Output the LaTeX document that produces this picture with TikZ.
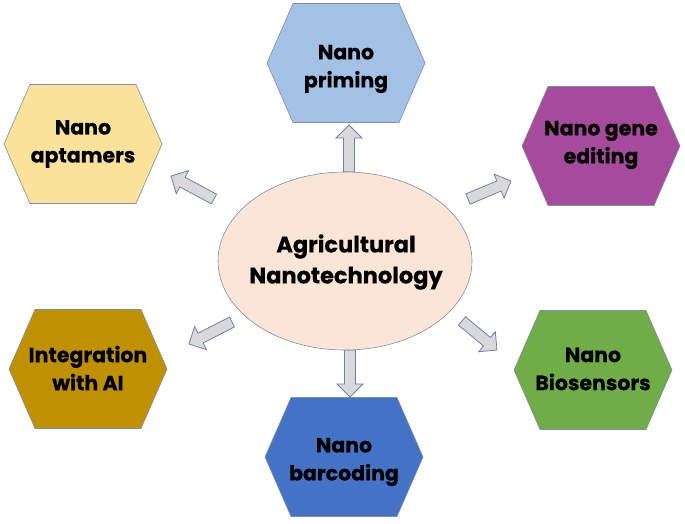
\documentclass[tikz,border=0pt]{standalone}
\usepackage{fontspec}
\setmainfont{Poppins}[BoldFont={Poppins Bold}, BoldFeatures={FakeBold=0.6}]
\usetikzlibrary{calc}
\definecolor{arrfill}{HTML}{D9D9D9}
\definecolor{arrline}{HTML}{6F80B0}
\definecolor{hexline}{HTML}{7F8FA6}
\definecolor{ellfill}{HTML}{FBE5D6}
\definecolor{cprim}{HTML}{A2C1E4}
\definecolor{capt}{HTML}{FBE29A}
\definecolor{cgene}{HTML}{A64A9C}
\definecolor{cai}{HTML}{BF9000}
\definecolor{cbio}{HTML}{70AD47}
\definecolor{cbar}{HTML}{4472C4}
\tikzset{
  hexshape/.style={draw=hexline, line width=0.6pt},
  hextext/.style={align=center, font=\fontsize{20.5}{28}\selectfont\bfseries, text=black, inner sep=0pt},
  blockarrow/.style={draw=arrline, fill=arrfill, line width=0.8pt, line join=miter},
}
% name, cx, cy, fill, text, text y-offset
\newcommand\myhex[6]{%
  \coordinate (#1) at (#2,#3);
  \draw[hexshape, fill=#4] (#1) ++(-79,0) -- ++(26,-59.5) -- ++(106,0) -- ++(26,59.5) -- ++(-26,59.5) -- ++(-106,0) -- cycle;
  \node[hextext] (#1-t) at ($(#1)+(0,#6)$) {#5};
}
\newcommand\myarrow[2]{%
  \path[blockarrow] ($(#1)!5.5pt!90:(#2)$) -- ($($(#2)!13pt!(#1)$)!5.5pt!-90:(#1)$)
    -- ($($(#2)!13pt!(#1)$)!13pt!-90:(#1)$) -- (#2)
    -- ($($(#2)!13pt!(#1)$)!13pt!90:(#1)$) -- ($($(#2)!13pt!(#1)$)!5.5pt!90:(#1)$)
    -- ($(#1)!5.5pt!-90:(#2)$) -- cycle;
}
\begin{document}
\begin{tikzpicture}[x=1pt,y=-1pt]
\useasboundingbox (0,0) rectangle (685,523);
% hexagons
\myhex{prim}{346}{63}{cprim}{Nano\\priming}{6}
\myhex{apt}{83}{144}{capt}{Nano\\aptamers}{0}
\myhex{gene}{601}{146}{cgene}{Nano gene\\editing}{-1}
\myhex{ai}{88}{369}{cai}{Integration\\with AI}{-1}
\myhex{bio}{593}{370}{cbio}{Nano\\Biosensors}{-1}
\myhex{bar}{344}{457}{cbar}{Nano\\barcoding}{5}
% arrow coordinates
\coordinate (uT) at (349,172);  \coordinate (uH) at (349,125);
\coordinate (dT) at (350,350);  \coordinate (dH) at (350,397);
\coordinate (ulT) at (214,199); \coordinate (ulH) at (171,176);
\coordinate (urT) at (468,199); \coordinate (urH) at (511,181);
\coordinate (llT) at (232,322); \coordinate (llH) at (189,344);
\coordinate (lrT) at (462,321); \coordinate (lrH) at (497,350);
\myarrow{uT}{uH}
\myarrow{dT}{dH}
\myarrow{ulT}{ulH}
\myarrow{urT}{urH}
\myarrow{llT}{llH}
\myarrow{lrT}{lrH}
% center ellipse
\draw[draw=hexline, line width=0.6pt, fill=ellfill] (345,261) ellipse [x radius=127, y radius=89];
\node[align=center, font=\fontsize{22.5}{31}\selectfont\bfseries, inner sep=0pt] (c) at (346,262) {Agricultural\\Nanotechnology};
\end{tikzpicture}
\end{document}
